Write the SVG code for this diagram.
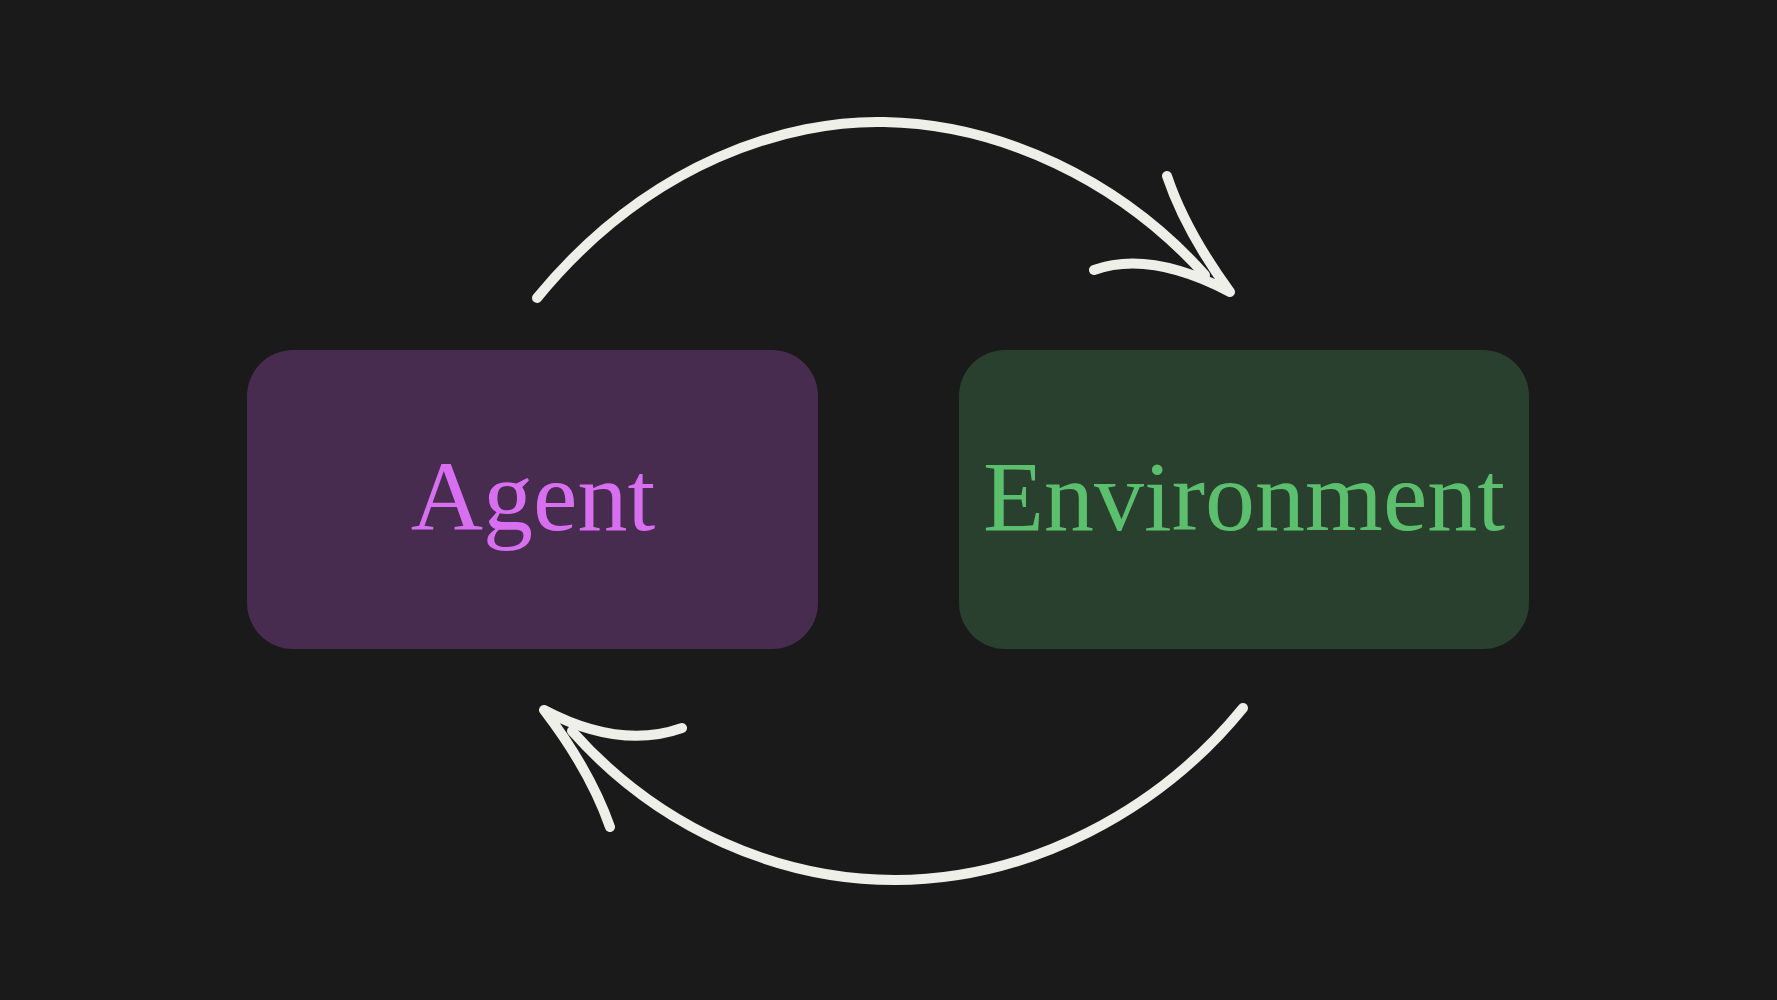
<svg xmlns="http://www.w3.org/2000/svg" width="1777" height="1000" viewBox="0 0 1777 1000">
<style>
.arc{fill:none;stroke:#eeefe8;stroke-width:10;stroke-linecap:round;stroke-linejoin:round}
.lbl{font-family:"Liberation Serif","DejaVu Serif",serif;font-size:100px;text-anchor:middle}
</style>
<rect width="1777" height="1000" fill="#1a1a1a"/>
<g id="agent">
<rect x="247" y="350" width="571" height="299" rx="46" fill="#472c50"/>
<text class="lbl" x="533" y="530" fill="#d86ff0">Agent</text>
</g>
<g id="environment">
<rect x="959" y="350" width="570" height="299" rx="46" fill="#29402f"/>
<text class="lbl" x="1244" y="530" fill="#5cbf6e">Environment</text>
</g>
<g id="connectors">
<path class="arc" d="M537,298 C650,160 790,120 884,122 C1000,124 1120,180 1205,275"/>
<path class="arc" d="M1167,176 Q1185,230 1230,292 M1094,270 Q1150,250 1230,292"/>
<path class="arc" d="M1243,708 C1160,810 1030,880 895,880 C780,880 660,830 572,731"/>
<path class="arc" d="M610,827 Q590,770 544,710 M682,728 Q620,750 544,710"/>
</g>
</svg>
